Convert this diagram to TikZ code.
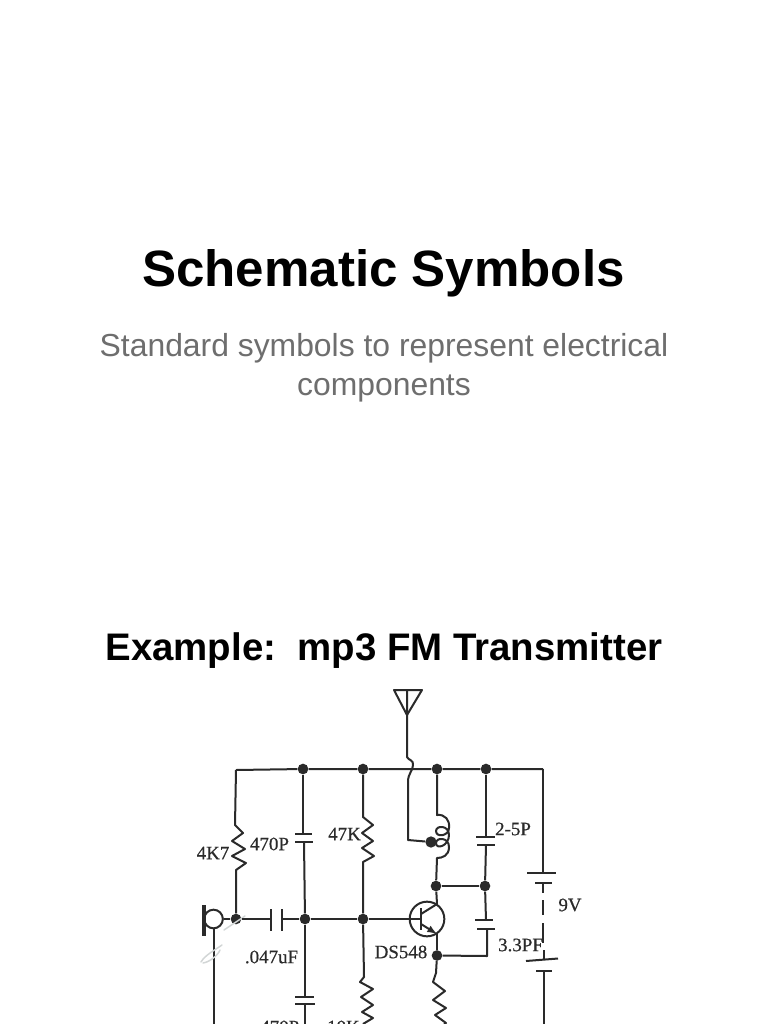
\documentclass[tikz,border=0pt]{standalone}
\usepackage{fontspec}
\setmainfont{Liberation Sans}
\newfontfamily\schem[FakeBold=0.5]{Liberation Serif}
\usetikzlibrary{calc}
\definecolor{ink}{HTML}{2A2A2A}
\definecolor{subt}{HTML}{6E6E6E}
\definecolor{smudge}{HTML}{D2D6D6}
\tikzset{
 px/.style={x=0.75pt,y=-0.75pt},
 wire/.style={draw=ink,line width=1.5pt,line join=round},
 lbl/.style={text=ink,inner sep=0pt,font=\schem\fontsize{14.2}{16}\selectfont},
 dot/.style={circle,fill=ink,draw=none,minimum size=8pt,inner sep=0pt},
 smear/.style={draw=smudge,line width=1.1pt,line cap=round}
}
\begin{document}
\begin{tikzpicture}[px]
\useasboundingbox[fill=white] (0,0) rectangle (768,1024);
\node[font=\bfseries\fontsize{38.3}{44}\selectfont,text=black,inner sep=0pt] (title) at (383.5,273.5) {Schematic Symbols};
\node[font=\fontsize{23.9}{29}\selectfont,text=subt,inner sep=0pt,align=center] (sub) at (384,367.5) {Standard symbols to represent electrical\\components};
\node[font=\bfseries\fontsize{28.8}{33}\selectfont,text=black,inner sep=0pt] (ex) at (384,650.5) {Example:\ \ mp3 FM Transmitter};
% junctions
\node[dot] (t1) at (303,769) {};
\node[dot] (t2) at (363,769) {};
\node[dot] (t3) at (437,769) {};
\node[dot] (t4) at (486,769) {};
\node[dot] (m0) at (236,919) {};
\node[dot] (m1) at (305,919) {};
\node[dot] (m2) at (363,919) {};
\node[dot] (c1) at (436,886) {};
\node[dot] (c2) at (485,886) {};
\node[dot] (e1) at (437,955.5) {};
\node[dot,minimum size=8.5pt] (tap) at (431,842) {};
\coordinate (tl) at (236,770);
\coordinate (tr) at (543,769);
% top rail
\draw[wire] (tl) -- (t1) -- (t2) -- (t3) -- (t4) -- (tr);
% antenna
\coordinate (ant) at (407,715);
\draw[wire] (394,690) -- (422,690) -- (ant) -- cycle;
\draw[wire] (407,690) -- (ant) -- (407,757) .. controls (408,760) and (414,760) .. (413,765) .. controls (413,771) and (408,773) .. (408,782) -- (408,840) -- (tap);
% 4K7
\draw[wire] (tl) -- (235,825) -- (243,833) -- (232,841) -- (245,849) -- (232,856) -- (246,863) -- (236,870) -- (m0);
\node[lbl] (l1) at (213,853) {4K7};
% 470P upper
\draw[wire] (t1) -- (303,834);
\draw[wire] (295,834) -- (312,834);
\draw[wire] (295,842) -- (313,842);
\draw[wire] (304,842) -- (m1);
\node[lbl] (l2) at (269.5,844) {470P};
% 47K
\draw[wire] (t2) -- (363,817) -- (373,825) -- (362,833) -- (373,841) -- (362,848) -- (374,856) -- (363,862) -- (m2);
\node[lbl] (l3) at (344.5,834) {47K};
% mic
\node[circle,draw=ink,line width=1.5pt,minimum size=14pt,inner sep=0pt] (mic) at (213.5,919) {};
\coordinate (micb) at (204,905);
\coordinate (mice) at (204,936);
\draw[draw=ink,line width=2.4pt] (micb) -- (mice);
\draw[wire] (mic) -- (m0);
\coordinate (micd) at (213.5,1024);
\draw[wire] (mic) -- (micd);
% pencil smudges
\draw[smear] (224,930) -- (245,916);
\draw[smear] (201,962) .. controls (205,955) and (215,950) .. (222,945);
\draw[smear] (203,963) .. controls (210,962) and (218,955) .. (220,950);
% .047
\coordinate (ca) at (271,919);
\coordinate (cb) at (282,919);
\draw[wire] (m0) -- (ca);
\draw[draw=ink,line width=1.7pt] (271,909) -- (271,931);
\draw[draw=ink,line width=1.7pt] (282,909) -- (282,931);
\draw[wire] (cb) -- (m1) -- (m2) -- (421,919);
\node[lbl] (l4) at (271.5,957) {.047uF};
% 470P lower
\draw[wire] (m1) -- (305,997);
\draw[wire] (295,997) -- (314,997);
\draw[wire] (295,1004) -- (315,1004);
\draw[wire] (305,1004) -- (305,1024);
\node[lbl,anchor=east] (l5) at (299.5,1027) {470P};
% 10K
\draw[wire] (m2) -- (364,977) -- (360,982) -- (373,989) -- (361,997) -- (373,1005) -- (362,1012) -- (373,1018) -- (363,1024);
\node[lbl,anchor=east] (l6) at (360,1027) {10K};
% transistor
\node[circle,draw=ink,line width=1.5pt,minimum size=26pt,inner sep=0pt] (q) at (427,919) {};
\draw[draw=ink,line width=2.2pt] (421,908) -- (421,930);
\draw[wire] (421,914) -- (437,904);
\draw[wire,-latex] (421,924) -- (437,934);
\draw[wire] (437,904) -- (c1);
\draw[wire] (437,934) -- (e1);
% coil
\draw[wire] (t3) -- (437,815) .. controls (445,814) and (450,820) .. (449,828) .. controls (449,836) and (436,838) .. (436,831) .. controls (436,825) and (449,825) .. (449,835) .. controls (449,846) and (436,850) .. (436,843) .. controls (436,837) and (449,837) .. (449,847) .. controls (449,856) and (442,858) .. (437,858) -- (c1);
% trimmer 2-5P
\draw[wire] (t4) -- (486,837);
\draw[wire] (476,837) -- (495,837);
\draw[wire] (477,845) -- (495,845);
\draw[wire] (486,845) -- (c2);
\node[lbl] (l7) at (513,829) {2-5P};
\draw[wire] (c1) -- (c2);
% 3.3PF
\draw[wire] (c2) -- (486,920);
\draw[wire] (475,920) -- (493,920);
\draw[wire] (477,929) -- (495,929);
\draw[wire] (487,929) -- (487,956) -- (e1);
\node[lbl] (l8) at (520.5,945) {3.3PF};
% emitter R
\draw[wire] (e1) -- (436,973) -- (433,982) -- (445,991) -- (433,1000) -- (446,1008) -- (435,1015) -- (446,1023) -- (444,1024);
% battery
\draw[wire] (tr) -- (543,873);
\draw[wire] (527,873) -- (556,873);
\draw[wire] (535,883) -- (552,883);
\draw[wire] (543,883) -- (543,893);
\draw[wire] (543,900) -- (543,915);
\draw[wire] (543,923) -- (543,943);
\draw[wire] (544,950) -- (544,959);
\draw[wire] (526,961) -- (558,958.5);
\draw[wire] (536,971) -- (552,971);
\draw[wire] (544,971) -- (544,1024);
\node[lbl] (l9) at (570,905) {9V};
\node[lbl] (l10) at (401,952) {DS548};
\end{tikzpicture}
\end{document}
